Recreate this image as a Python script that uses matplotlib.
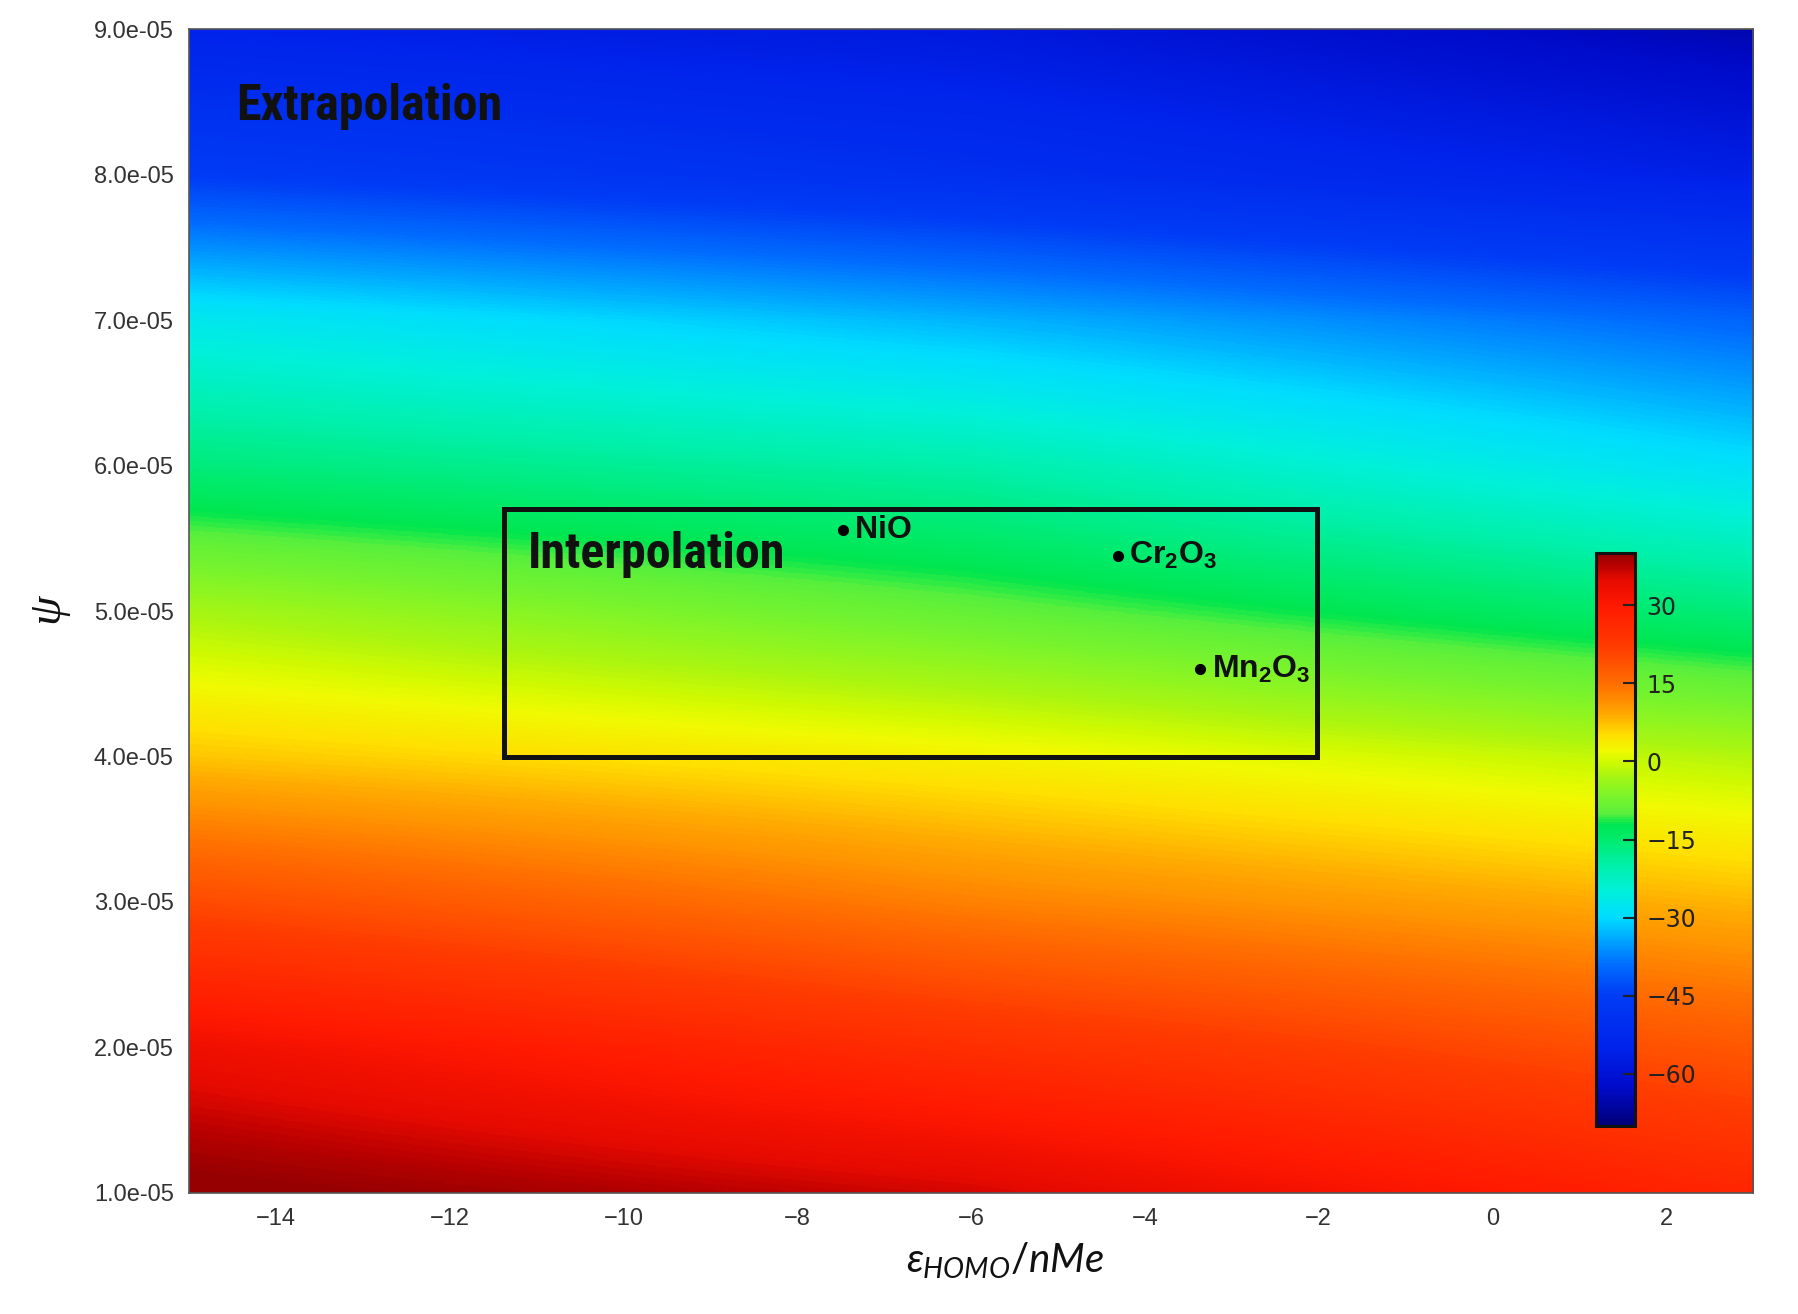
import numpy as np
import matplotlib
matplotlib.use("Agg")
import matplotlib.pyplot as plt
from matplotlib.colors import LinearSegmentedColormap
from matplotlib.patches import Rectangle
from matplotlib.ticker import FormatStrFormatter

plt.rcParams['mathtext.fontset'] = 'custom'
plt.rcParams['mathtext.rm'] = 'Lato'
plt.rcParams['mathtext.it'] = 'Lato:italic'
plt.rcParams['mathtext.bf'] = 'Liberation Sans:bold'

# grid nodes
eps_nodes = [-15.0, -6.0, 3.0]
psi_nodes = [1e-5, 2e-5, 3e-5, 4e-5, 5e-5, 6e-5, 7e-5, 8e-5, 9e-5]
# field value at each psi node (rows) for eps = -15, -6, 3 (columns)
field = [
    [41, 36, 27],
    [33, 25, 18],
    [20, 13, 8],
    [7, 3, -2],
    [-3, -9, -16],
    [-16, -20, -29],
    [-27, -33, -40],
    [-45, -50, -56],
    [-55, -58, -65],
]

# labelled compounds
names = [r'$\mathbf{NiO}$', r'$\mathbf{Cr_2O_3}$', r'$\mathbf{Mn_2O_3}$']
eps_pts = [-7.47, -4.31, -3.36]
psi_pts = [5.56e-5, 5.38e-5, 4.60e-5]

cbar_ticks = [30, 15, 0, -15, -30, -45, -60]
xticks = [-14, -12, -10, -8, -6, -4, -2, 0, 2]
yticks = [1e-5, 2e-5, 3e-5, 4e-5, 5e-5, 6e-5, 7e-5, 8e-5, 9e-5]

# saturated jet-like colours as seen on the colour bar
stops = [
    (-70, (0, 0, 120)), (-63, (0, 10, 200)), (-55, (0, 35, 235)),
    (-45, (0, 60, 245)), (-39, (0, 110, 255)), (-34, (0, 170, 255)),
    (-30, (0, 220, 255)), (-25, (0, 240, 220)), (-20, (0, 240, 170)),
    (-15, (0, 235, 110)), (-12, (0, 230, 80)), (-10, (90, 240, 60)),
    (-6, (130, 245, 40)), (-3, (165, 245, 20)), (0, (210, 250, 0)),
    (2, (240, 250, 0)), (5, (255, 225, 0)), (9, (255, 170, 0)),
    (15, (255, 110, 0)), (22, (255, 60, 0)), (30, (255, 25, 0)),
    (35, (230, 10, 0)), (38, (180, 0, 0)), (40, (150, 0, 0)),
]
vmin, vmax = -70, 40
cmap = LinearSegmentedColormap.from_list(
    'satjet', [((v - vmin) / (vmax - vmin), tuple(c / 255 for c in col)) for v, col in stops])

fig = plt.figure(figsize=(17.98, 13.14), dpi=100)
ax = fig.add_axes([0.1051, 0.0921, 0.8699, 0.8858])

# cell centres sit on the nodes; bilinear interpolation in data space
dx = eps_nodes[1] - eps_nodes[0]
dy = psi_nodes[1] - psi_nodes[0]
extent = [eps_nodes[0] - dx / 2, eps_nodes[-1] + dx / 2,
          psi_nodes[0] - dy / 2, psi_nodes[-1] + dy / 2]
img = ax.imshow(np.array(field, dtype=float), origin='lower', extent=extent,
                aspect='auto', cmap=cmap, vmin=vmin, vmax=vmax,
                interpolation='bilinear', interpolation_stage='data')
ax.set_xlim(-15, 3)
ax.set_ylim(1e-5, 9e-5)

ax.set_xticks(xticks)
ax.set_yticks(yticks)
ax.yaxis.set_major_formatter(FormatStrFormatter('%.1e'))
ax.tick_params(length=0, pad=11, labelsize=17, labelcolor='#333333')
for lab in ax.get_xticklabels() + ax.get_yticklabels():
    lab.set_family('Liberation Sans')
for sp in ax.spines.values():
    sp.set_color('#555555')
    sp.set_linewidth(1.2)

# interpolation box
ax.add_patch(Rectangle((-11.37, 4.0e-5), 9.35, 1.7e-5, fill=False,
                       edgecolor='#111111', linewidth=3.6, zorder=3))

ax.plot(eps_pts, psi_pts, 'o', color='black', markersize=7, zorder=4)
for n, x, y in zip(names, eps_pts, psi_pts):
    ax.annotate(n, (x, y), xytext=(8, 0), textcoords='offset points',
                va='center', ha='left', fontsize=23, color='#111111')

narrow = ['Roboto Condensed', 'Roboto']
ax.text(-14.46, 8.47e-5, 'Extrapolation', fontsize=36, fontweight='bold',
        family=narrow, color='#111111', va='center', ha='left')
ax.text(-11.1, 5.39e-5, 'Interpolation', fontsize=36, fontweight='bold',
        family=narrow, color='#111111', va='center', ha='left')

fig.text(0.559, 0.040, r'$\varepsilon_{HOMO}/nMe$', fontsize=29,
         ha='center', va='center', color='#111111')
fig.text(0.026, 0.537, 'ψ', fontsize=34, rotation=90, style='italic',
         family='Liberation Serif', ha='center', va='center', color='#111111')

# colour bar placed inside the plot
cax = fig.add_axes([0.8877, 0.1431, 0.0217, 0.436])
cb = fig.colorbar(img, cax=cax, ticks=cbar_ticks)
cb.outline.set_linewidth(2.2)
cb.outline.set_edgecolor('#111111')
cax.tick_params(direction='in', length=9, width=1.5, color='#222222',
                labelsize=17, labelcolor='#222222', pad=8)

fig.savefig('out.png', dpi=100)
